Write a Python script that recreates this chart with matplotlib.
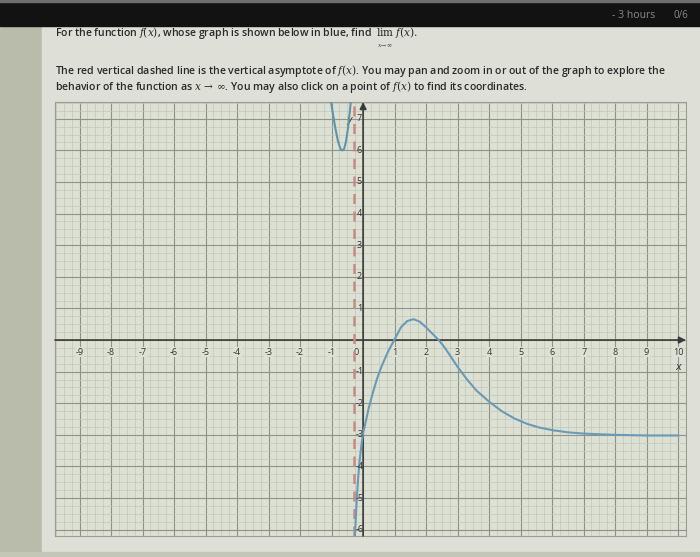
import matplotlib
matplotlib.use("Agg")
import matplotlib.pyplot as plt
from matplotlib.patches import Rectangle, FancyBboxPatch
import numpy as np

plt.rcParams['mathtext.fontset'] = 'dejavuserif'

# ---- data ----
left_x = [-1.02, -0.95, -0.88, -0.80, -0.72, -0.66, -0.60, -0.54, -0.48, -0.43, -0.39]
left_y = [7.55, 7.10, 6.70, 6.30, 6.05, 6.00, 6.05, 6.30, 6.70, 7.15, 7.55]

right_x = [-0.26, -0.23, -0.20, -0.16, -0.11, -0.05, 0.00, 0.08, 0.18, 0.30, 0.45, 0.60,
           0.80, 1.00, 1.20, 1.40, 1.60, 1.80, 2.00, 2.20, 2.40, 2.60, 2.80, 3.00, 3.30,
           3.60, 4.00, 4.40, 4.80, 5.20, 5.60, 6.00, 6.50, 7.00, 7.50, 8.00, 9.00, 10.00]
right_y = [-6.2, -5.6, -5.0, -4.4, -3.8, -3.3, -2.95, -2.6, -2.15, -1.7, -1.2, -0.8,
           -0.35, 0.02, 0.4, 0.6, 0.66, 0.58, 0.4, 0.2, 0.0, -0.25, -0.55, -0.85, -1.25,
           -1.6, -1.95, -2.25, -2.48, -2.65, -2.77, -2.85, -2.92, -2.96, -2.98, -3.0, -3.02, -3.02]

asymptote_x = -0.3
x_ticks = [-9, -8, -7, -6, -5, -4, -3, -2, -1, 0, 1, 2, 3, 4, 5, 6, 7, 8, 9, 10]
y_ticks = [7, 6, 5, 4, 3, 2, 1, -1, -2, -3, -4, -5, -6]

W, H = 700, 557
fig = plt.figure(figsize=(W / 100, H / 100), dpi=100)
fig.patch.set_facecolor('#b7baa8')

def px(x, y, w, h):
    return (x / W, 1 - (y + h) / H, w / W, h / H)

# background pieces
bg = fig.add_axes([0, 0, 1, 1])
bg.set_xlim(0, W); bg.set_ylim(H, 0); bg.axis('off')
bg.add_patch(Rectangle((0, 0), W, H, color='#b9bcaa', zorder=0))
bg.add_patch(Rectangle((42, 26), W - 42, 526, color='#dedfd6', zorder=1))
bg.add_patch(Rectangle((0, 552), W, 5, color='#c4c6b8', zorder=1))
bg.add_patch(Rectangle((0, 0), W, 26, color='#121212', zorder=2))
bg.add_patch(Rectangle((0, 0), W, 2, color='#6e6e6e', zorder=3))
bg.text(655, 15, '- 3 hours', color='#8a8a8a', fontsize=7.5, ha='right', va='center',
        family='Open Sans', zorder=4)
bg.text(688, 15, '0/6', color='#8a8a8a', fontsize=7, ha='right', va='center',
        family='Open Sans', zorder=4)

tfont = dict(family='Open Sans', fontsize=7.6, fontweight='semibold', color='#2a2a2a',
             va='center', zorder=4)
bg.text(55, 33, r'For the function $f(x)$, whose graph is shown below in blue, find', **tfont)
bg.text(376, 33, r'$\mathrm{lim}\ f(x).$', **tfont)
bg.text(377, 45, r'$x\!\to\!\infty$', family='Open Sans', fontsize=4.5, color='#444444',
        va='center', zorder=4)
bg.text(55, 71, r'The red vertical dashed line is the vertical asymptote of $f(x)$. You may pan and zoom in or out of the graph to explore the', **tfont)
bg.text(55, 87, r'behavior of the function as $x\,\to\,\infty$. You may also click on a point of $f(x)$ to find its coordinates.', **tfont)

# graph axes
ax = fig.add_axes(px(55, 102, 631, 434))
ax.set_facecolor('#dde1d3')
ax.set_xlim(-9.78, 10.25)
ax.set_ylim(-6.2, 7.53)
for s in ax.spines.values():
    s.set_color('#9a9d92'); s.set_linewidth(0.8)
ax.set_xticks(np.arange(-9, 11, 1))
ax.set_yticks(np.arange(-6, 8, 1))
ax.set_xticks(np.arange(-9.75, 10.3, 0.25), minor=True)
ax.set_yticks(np.arange(-6.0, 7.6, 0.25), minor=True)
ax.grid(which='major', color='#8e9288', linewidth=0.8)
ax.grid(which='minor', color='#c3c7ba', linewidth=0.5)
ax.tick_params(which='both', length=0, labelbottom=False, labelleft=False)
ax.set_axisbelow(True)

# axes lines with arrows
ax.annotate('', xy=(10.25, 0), xytext=(-9.78, 0),
            arrowprops=dict(arrowstyle='-|>', color='#3a3a3a', lw=1.2, mutation_scale=10,
                            shrinkA=0, shrinkB=0), annotation_clip=False)
ax.annotate('', xy=(0, 7.53), xytext=(0, -6.2),
            arrowprops=dict(arrowstyle='-|>', color='#3a3a3a', lw=1.2, mutation_scale=10,
                            shrinkA=0, shrinkB=0), annotation_clip=False)

for t in x_ticks:
    xp = -0.22 if t == 0 else t
    ax.text(xp, -0.38, str(t), fontsize=6.5, color='#333333', ha='center', va='center',
            family='Open Sans',
            bbox=dict(boxstyle='square,pad=0.05', fc='#dde1d3', ec='none'))
for t in y_ticks:
    ax.text(-0.12, t, str(t), fontsize=6.5, color='#333333', ha='center', va='center',
            family='Open Sans', zorder=5)
ax.text(-0.45, 6.95, 'y', fontsize=7, style='italic', color='#333333', ha='center', va='center')
ax.text(10.0, -0.85, 'x', fontsize=7, style='italic', color='#333333', ha='center', va='center')

ax.axvline(asymptote_x, color='#c98b80', linestyle=(0, (4, 3)), linewidth=1.8, zorder=3)

ax.plot(left_x, left_y, color='#5f93ae', linewidth=1.5, zorder=4)
ax.plot(right_x, right_y, color='#6a9ab6', linewidth=1.5, zorder=4)

# zoom buttons
bg.add_patch(FancyBboxPatch((650, 110), 30, 55, boxstyle='round,pad=0,rounding_size=3',
                            fc='#cfd1c6', ec='#a9ab9f', lw=0.8, zorder=5))
bg.plot([650, 680], [138, 138], color='#b5b7ab', lw=0.6, zorder=6)
bg.text(665, 125, '+', fontsize=9, fontweight='bold', color='#333333', ha='center', va='center', zorder=6)
bg.text(665, 151, '\u2212', fontsize=9, fontweight='bold', color='#333333', ha='center', va='center', zorder=6)

fig.savefig('out.png', dpi=100, facecolor=fig.get_facecolor())
